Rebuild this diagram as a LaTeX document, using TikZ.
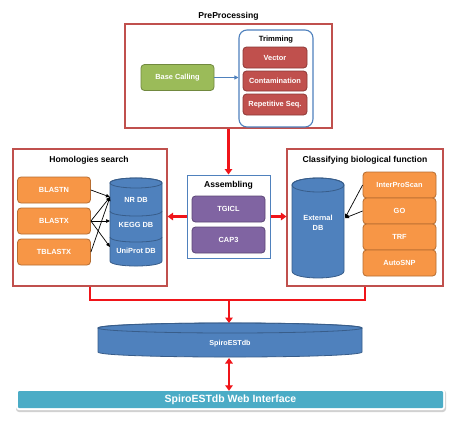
\documentclass[tikz,border=0pt]{standalone}
\usepackage{fontspec}
\setmainfont{Liberation Sans}
\usetikzlibrary{arrows.meta}
\definecolor{boxred}{HTML}{C0504D}
\definecolor{boxredd}{HTML}{8C3836}
\definecolor{grn}{HTML}{9BBB59}
\definecolor{grnd}{HTML}{71893F}
\definecolor{blu}{HTML}{4F81BD}
\definecolor{blud}{HTML}{385D8A}
\definecolor{org}{HTML}{F79646}
\definecolor{orgd}{HTML}{B66D31}
\definecolor{pur}{HTML}{8064A2}
\definecolor{purd}{HTML}{5C4776}
\definecolor{teal}{HTML}{4BACC6}
\definecolor{conred}{HTML}{F01419}
\tikzset{
  frame/.style={draw=boxred, line width=1.1pt, inner sep=0pt},
  bframe/.style={draw=blu, line width=1.1pt, inner sep=0pt},
  ttl/.style={font=\fontsize{8.6}{10}\selectfont\bfseries, text=black, inner sep=0pt},
  wtxt/.style={font=\fontsize{7.4}{8.5}\selectfont\bfseries, text=white, inner sep=0pt},
  tool/.style={wtxt, rounded corners=3.5pt, line width=0.8pt, minimum width=73pt, minimum height=26pt},
  greenbox/.style={tool, fill=grn, draw=grnd},
  redbox/.style={tool, fill=boxred, draw=boxredd, minimum width=64pt, minimum height=21pt},
  orangebox/.style={tool, fill=org, draw=orgd},
  purplebox/.style={tool, fill=pur, draw=purd},
  cyl/.style={fill=blu, draw=blud, line width=0.8pt},
  redarrow/.style={draw=conred, line width=2.3pt, -{Triangle[length=5.5pt,width=7.5pt]}},
  redline/.style={draw=conred, line width=2.3pt},
  blkarrow/.style={draw=black, line width=0.7pt, -{Triangle[length=4pt,width=3.5pt]}},
}
\begin{document}
\begin{tikzpicture}[x=1pt,y=-1pt]
\useasboundingbox (0,0) rectangle (474,432);
\fill[white] (0,0) rectangle (474,432);

% PreProcessing
\node[ttl] (pretitle) at (228.5,16) {PreProcessing};
\node[frame, minimum width=207pt, minimum height=104pt] (pre) at (228.5,76) {};
\node[bframe, rounded corners=8pt, minimum width=74pt, minimum height=97pt] (trim) at (276,78.5) {};
\node[ttl, font=\fontsize{7.6}{9}\selectfont\bfseries] (trimtitle) at (276,40) {Trimming};
\node[greenbox] (base) at (177.5,77.5) {Base Calling};
\node[redbox] (vector) at (275,57.5) {Vector};
\node[redbox, minimum height=20pt] (contam) at (275,81) {Contamination};
\node[redbox] (repet) at (275,104.5) {Repetitive Seq.};
\draw[draw=blu, line width=1pt, -{Triangle[length=4pt,width=4pt]}] (base.east) -- (base.east -| trim.west);

% Assembling
\node[bframe, line width=1pt, minimum width=83pt, minimum height=83pt] (asm) at (228.5,216.5) {};
\node[ttl] (asmtitle) at (228.5,185) {Assembling};
\node[purplebox] (tgicl) at (228.5,209) {TGICL};
\node[purplebox] (cap) at (228.5,240) {CAP3};

% Homologies search
\node[frame, minimum width=154pt, minimum height=137pt] (hom) at (90,217.5) {};
\node[ttl] (homtitle) at (89,160) {Homologies search};
\node[orangebox] (blastn) at (54,190) {BLASTN};
\node[orangebox] (blastx) at (54,221) {BLASTX};
\node[orangebox] (tblastx) at (54,252) {TBLASTX};
\path[cyl] (110,183) -- (110,261) .. controls (110,267.7) and (162,267.7) .. (162,261)
  -- (162,183) .. controls (162,176.3) and (110,176.3) .. (110,183) -- cycle;
\draw[blud, line width=0.8pt] (136,183) ellipse (26 and 5);
\draw[blud, line width=0.8pt] (110,211) .. controls (110,217.7) and (162,217.7) .. (162,211);
\draw[blud, line width=0.8pt] (110,237) .. controls (110,243.7) and (162,243.7) .. (162,237);
\node[wtxt] (nrdb) at (136,200) {NR DB};
\node[wtxt] (kegg) at (136,225) {KEGG DB};
\node[wtxt] (uniprot) at (136,251) {UniProt DB};
\coordinate (nrin) at (110,197);
\coordinate (keggin) at (110,221);
\coordinate (uniin) at (110,247);
\draw[blkarrow] (blastn.east) -- (nrin);
\draw[blkarrow] (blastx.east) -- (nrin);
\draw[blkarrow] (blastx.east) -- (keggin);
\draw[blkarrow] (blastx.east) -- (uniin);
\draw[blkarrow] (tblastx.east) -- (nrin);

% Classifying biological function
\node[frame, minimum width=156pt, minimum height=137pt] (cls) at (365,217.5) {};
\node[ttl] (clstitle) at (365,160) {Classifying biological function};
\path[cyl] (292,185) -- (292,271) .. controls (292,280.3) and (344,280.3) .. (344,271)
  -- (344,185) .. controls (344,175.7) and (292,175.7) .. (292,185) -- cycle;
\draw[blud, line width=0.8pt] (318,185) ellipse (26 and 7);
\node[wtxt, align=center] (ext) at (318,223) {External\\[1pt]DB};
\node[orangebox] (ipr) at (399.5,185) {InterProScan};
\node[orangebox] (go) at (399.5,211) {GO};
\node[orangebox] (trf) at (399.5,237) {TRF};
\node[orangebox] (autosnp) at (399.5,263) {AutoSNP};
\coordinate (extin) at (345,218);
\draw[blkarrow] (ipr.west) -- (extin);
\draw[blkarrow] (go.west) -- (extin);

% red connectors
\draw[redarrow] (pre.south) -- (asm.north);
\draw[redarrow] (asm.west) -- (asm.west -| hom.east);
\draw[redarrow] (asm.east) -- (asm.east -| cls.west);
\coordinate (merge) at (229,300);
\draw[redline] (hom.south) |- (merge) -| (cls.south);

% SpiroESTdb
\path[cyl] (98,328) -- (98,352) .. controls (98,358.7) and (362,358.7) .. (362,352)
  -- (362,328) .. controls (362,321.3) and (98,321.3) .. (98,328) -- cycle;
\draw[blud, line width=0.8pt] (230,328) ellipse (132 and 5);
\node[wtxt, font=\fontsize{7.2}{8}\selectfont\bfseries] (spiro) at (230,344) {SpiroESTdb};
\coordinate (spirotop) at (229,323);
\coordinate (spirobot) at (229,358);
\draw[redarrow] (merge) -- (spirotop);

% Web interface
\fill[black!18, rounded corners=3pt] (16,390) rectangle (446,412);
\fill[white, rounded corners=3pt] (16,389) rectangle (445,410);
\node[fill=teal, minimum width=425pt, minimum height=17pt, inner sep=0pt, rounded corners=1pt,
  font=\fontsize{10.5}{12}\selectfont\bfseries, text=white] (web) at (230.5,399.5) {SpiroESTdb Web Interface};
\draw[draw=conred, line width=2.3pt, {Triangle[length=5.5pt,width=7.5pt]}-{Triangle[length=5.5pt,width=7.5pt]}] (spirobot) -- (web.north -| spirobot);
\end{tikzpicture}
\end{document}
